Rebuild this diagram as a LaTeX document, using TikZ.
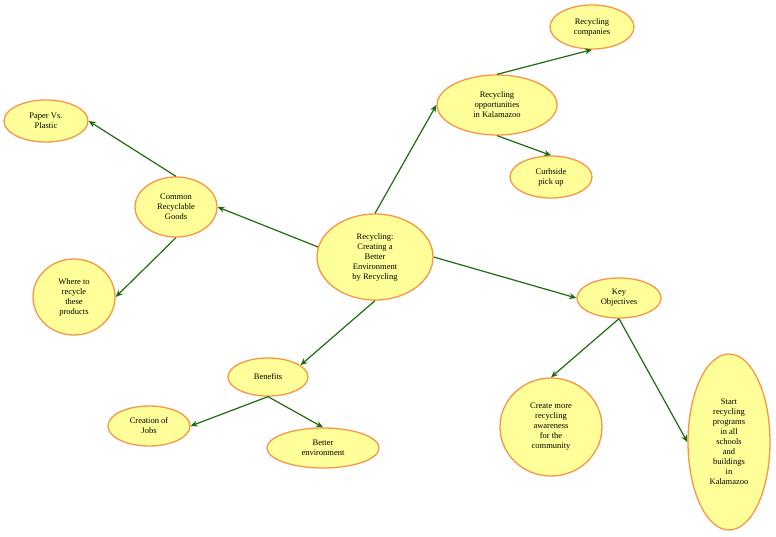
\documentclass[tikz,border=0pt]{standalone}
\usepackage{fontspec}
\setmainfont{Liberation Serif}
\usetikzlibrary{shapes.geometric,arrows.meta}
\definecolor{fillc}{HTML}{FFFF99}
\definecolor{edgec}{HTML}{F79646}
\definecolor{linec}{HTML}{1E6B10}
\tikzset{
 bub/.style={ellipse,draw=edgec,line width=1.3pt,fill=fillc,inner sep=0pt,align=center,font=\fontsize{8.5}{10}\selectfont},
 con/.style={draw=linec,line width=1.2pt,-{Stealth[length=7pt,width=6pt]}}
}
\begin{document}
\begin{tikzpicture}[x=1pt,y=-1pt]
\useasboundingbox (0,0) rectangle (776,536);
\node[bub,minimum width=116pt,minimum height=86pt] (c) at (375,257) {Recycling:\\Creating a\\Better\\Environment\\by Recycling};
\node[bub,minimum width=84pt,minimum height=44pt] (comp) at (592,27) {Recycling\\companies};
\node[bub,minimum width=120pt,minimum height=60pt] (opp) at (497,105) {Recycling\\opportunities\\in Kalamazoo};
\node[bub,minimum width=82pt,minimum height=42pt] (curb) at (551,177) {Curbside\\pick up};
\node[bub,minimum width=84pt,minimum height=42pt] (paper) at (46,121) {Paper Vs.\\Plastic};
\node[bub,minimum width=82pt,minimum height=60pt] (goods) at (176,207) {Common\\Recyclable\\Goods};
\node[bub,minimum width=82pt,minimum height=76pt] (where) at (74,297) {Where to\\recycle\\these\\products};
\node[bub,minimum width=84pt,minimum height=40pt] (key) at (619,298) {Key\\Objectives};
\node[bub,minimum width=80pt,minimum height=38pt] (ben) at (268,377) {Benefits};
\node[bub,minimum width=82pt,minimum height=40pt] (jobs) at (149,426) {Creation of\\Jobs};
\node[bub,minimum width=112pt,minimum height=40pt] (better) at (323,448) {Better\\environment};
\node[bub,minimum width=102pt,minimum height=98pt] (aware) at (551,427) {Create more\\recycling\\awareness\\for the\\community};
\node[bub,minimum width=82pt,minimum height=176pt] (start) at (729,442) {Start\\recycling\\programs\\in all\\schools\\and\\buildings\\in\\Kalamazoo};
\draw[con] (c.north) -- (opp.west);
\draw[con] (opp.north) -- (comp.south);
\draw[con] (opp.south) -- (curb.north);
\draw[con] (c.170) -- (goods.east);
\draw[con] (goods.north) -- (paper.east);
\draw[con] (goods.south) -- (where.east);
\draw[con] (c.east) -- (key.west);
\draw[con] (c.south) -- (ben.20);
\draw[con] (ben.south) -- (jobs.east);
\draw[con] (ben.south) -- (better.north);
\draw[con] (key.south) -- (aware.north);
\draw[con] (key.south) -- (start.west);
\end{tikzpicture}
\end{document}
